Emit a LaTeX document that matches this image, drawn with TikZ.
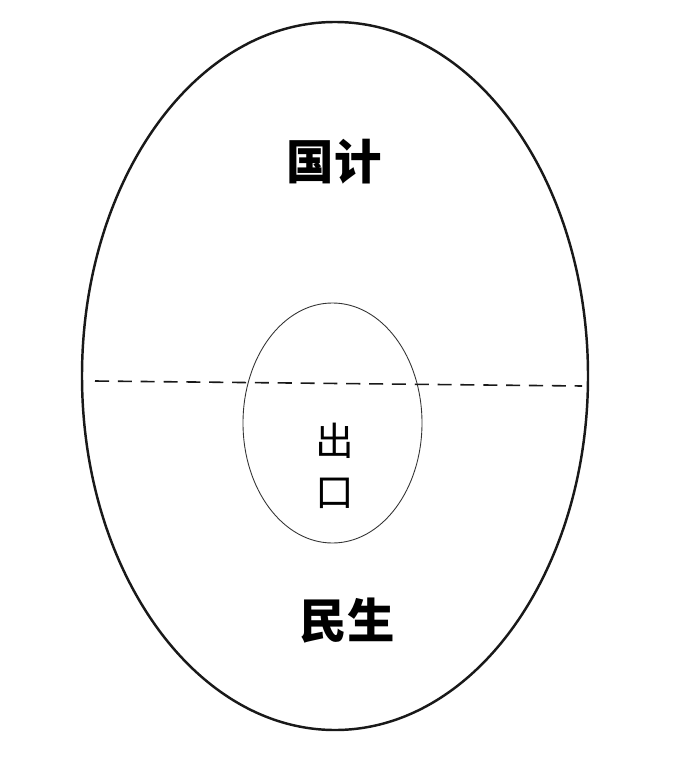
\documentclass[tikz,border=0pt]{standalone}
\usepackage{fontspec}
\newfontfamily\cjk{Noto Sans CJK SC}
\usetikzlibrary{positioning}

\begin{document}
\begin{tikzpicture}[x=0.02cm,y=-0.02cm,semithick]
  \tikzstyle{big label}=[font=\cjk\bfseries\fontsize{27}{27}\selectfont,text=black]
  \tikzstyle{small label}=[font=\cjk\fontsize{22}{29}\selectfont,text=black,align=center]

  \useasboundingbox (0,0) rectangle (694,770);

  % outer and inner ellipse
  \draw[line width=1.4pt,black!90] (335,376) ellipse (253 and 354);
  \draw[line width=0.5pt,black!80] (332.5,423) ellipse (89.5 and 120);

  % dividing line
  \coordinate (L) at (95,381);
  \coordinate (R) at (582,386);
  \draw[line width=0.9pt,dash pattern=on 8pt off 5pt,black!90] (L) -- (R);

  \node[big label] (top) at (334,162) {国计};
  \node[small label] (mid) at (335,466) {出\\口};
  \node[big label] (bot) at (347,621) {民生};
\end{tikzpicture}
\end{document}
